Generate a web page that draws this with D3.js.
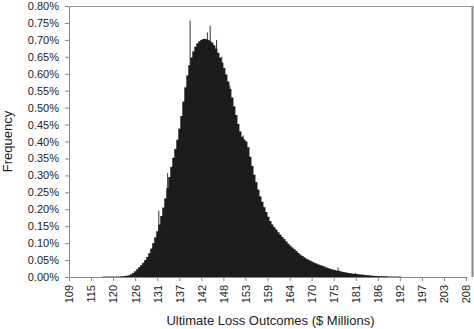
<!DOCTYPE html>
<html>
<head>
<meta charset="utf-8">
<script src="https://cdn.jsdelivr.net/npm/d3@7"></script>
<style>
  body { margin: 0; background: #fff; }
  svg { display: block; font-family: "Liberation Sans", Arial, sans-serif; }
  .axis path, .axis line { stroke: #888; }
  .axis text { fill: #222; font-size: 11px; }
</style>
</head>
<body>
<div id="chart"></div>
<script>
// Chart size and plot box
var width  = 474;
var height = 329;
var margin = {top: 6, right: 2, bottom: 52, left: 69};

// Histogram bins: centre of each $0.5M bin, and frequency (%)
var binStart = 117.5;
var binWidth = 0.5;
var freq = [
  0.001, 0.001, 0.001, 0.001, 0.001, 0.001, 0.001, 0.001, 0.001, 0.002,
  0.002, 0.003, 0.004, 0.005, 0.008, 0.012, 0.017, 0.023, 0.029, 0.035,
  0.042, 0.050, 0.059, 0.070, 0.084, 0.100, 0.117, 0.135, 0.155, 0.180,
  0.205, 0.232, 0.262, 0.295, 0.325, 0.352, 0.378, 0.405, 0.438, 0.475,
  0.518, 0.560, 0.595, 0.625, 0.648, 0.666, 0.680, 0.690, 0.696, 0.700,
  0.703, 0.702, 0.700, 0.697, 0.692, 0.684, 0.674, 0.662, 0.648, 0.633,
  0.617, 0.598, 0.577, 0.555, 0.530, 0.504, 0.478, 0.452, 0.430, 0.414,
  0.406, 0.400, 0.383, 0.355, 0.328, 0.302, 0.280, 0.258, 0.238, 0.222,
  0.206, 0.192, 0.178, 0.165, 0.155, 0.147, 0.140, 0.132, 0.125, 0.118,
  0.112, 0.105, 0.098, 0.092, 0.087, 0.082, 0.077, 0.071, 0.066, 0.062,
  0.058, 0.054, 0.051, 0.048, 0.045, 0.042, 0.040, 0.037, 0.035, 0.033,
  0.031, 0.028, 0.026, 0.024, 0.022, 0.021, 0.019, 0.018, 0.017, 0.015,
  0.014, 0.013, 0.012, 0.011, 0.010, 0.009, 0.009, 0.008, 0.007, 0.007,
  0.006, 0.005, 0.005, 0.004, 0.004, 0.003, 0.003, 0.003, 0.002, 0.002,
  0.002, 0.002, 0.001, 0.001, 0.001, 0.001, 0.001, 0.001, 0.001
];

// Single narrow outcomes sticking out above the curve
var spikeX    = [131.4, 133.6, 139.2, 143.5, 144.2, 145.8, 147.1, 149.1, 152.4, 176.1, 180.4];
var spikeFreq = [0.196, 0.307, 0.757, 0.722, 0.742, 0.700, 0.650, 0.565, 0.418, 0.028, 0.012];

// Axis ticks
var xTicks = d3.range(19).map(function(i) { return 109 + 5.5 * i; });
var yTicks = d3.range(17).map(function(i) { return i * 0.05; });

var svg = d3.select("#chart").append("svg")
    .attr("width", width)
    .attr("height", height);

var plotW = width - margin.left - margin.right;
var plotH = height - margin.top - margin.bottom;

var g = svg.append("g")
    .attr("transform", "translate(" + margin.left + "," + margin.top + ")");

// 109 sits on the left edge, 208 a little short of the right edge
var x = d3.scaleLinear()
    .domain([109, 208])
    .range([0, 397]);

var y = d3.scaleLinear()
    .domain([0, 0.8])
    .range([plotH, 0]);

// Frame: top and right borders
g.append("line")
    .attr("x1", 0).attr("x2", plotW)
    .attr("y1", 0.5).attr("y2", 0.5)
    .attr("stroke", "#999");
g.append("line")
    .attr("x1", plotW + 0.5).attr("x2", plotW + 0.5)
    .attr("y1", 0).attr("y2", plotH)
    .attr("stroke", "#888")
    .attr("stroke-width", 2);

// Spikes first, so the bars cover their lower part
g.append("g")
    .selectAll("rect")
    .data(spikeX)
    .enter()
    .append("rect")
    .attr("x", function(d) { return x(d) - 0.5; })
    .attr("width", 1)
    .attr("y", function(d, i) { return y(spikeFreq[i]); })
    .attr("height", function(d, i) { return plotH - y(spikeFreq[i]); })
    .attr("fill", "#333");

// Histogram bars (overlap a little so no seams show)
g.append("g")
    .selectAll("rect")
    .data(freq)
    .enter()
    .append("rect")
    .attr("x", function(d, i) { return x(binStart + i * binWidth - binWidth / 2); })
    .attr("width", x(binStart + binWidth) - x(binStart) + 1)
    .attr("y", function(d) { return y(d); })
    .attr("height", function(d) { return plotH - y(d); })
    .attr("fill", "#1c1c1c");

// Y axis
g.append("g")
    .attr("class", "axis")
    .call(d3.axisLeft(y)
        .tickValues(yTicks)
        .tickSize(4)
        .tickPadding(6)
        .tickFormat(function(d) { return d.toFixed(2) + "%"; }));

// X axis with vertical labels
var xAxis = g.append("g")
    .attr("class", "axis")
    .attr("transform", "translate(0," + plotH + ")")
    .call(d3.axisBottom(x)
        .tickValues(xTicks)
        .tickSize(4)
        .tickFormat(function(d) { return Math.round(d); }));

xAxis.selectAll("text")
    .attr("transform", "rotate(-90)")
    .attr("text-anchor", "end")
    .attr("x", -8)
    .attr("y", 0)
    .attr("dy", "0.35em");

// Axis titles
svg.append("text")
    .attr("x", margin.left + plotW / 2)
    .attr("y", 325)
    .attr("text-anchor", "middle")
    .attr("font-size", "13px")
    .attr("fill", "#222")
    .text("Ultimate Loss Outcomes ($ Millions)");

svg.append("text")
    .attr("transform", "translate(12," + (margin.top + plotH / 2) + ") rotate(-90)")
    .attr("text-anchor", "middle")
    .attr("font-size", "13px")
    .attr("fill", "#222")
    .text("Frequency");
</script>
</body>
</html>
